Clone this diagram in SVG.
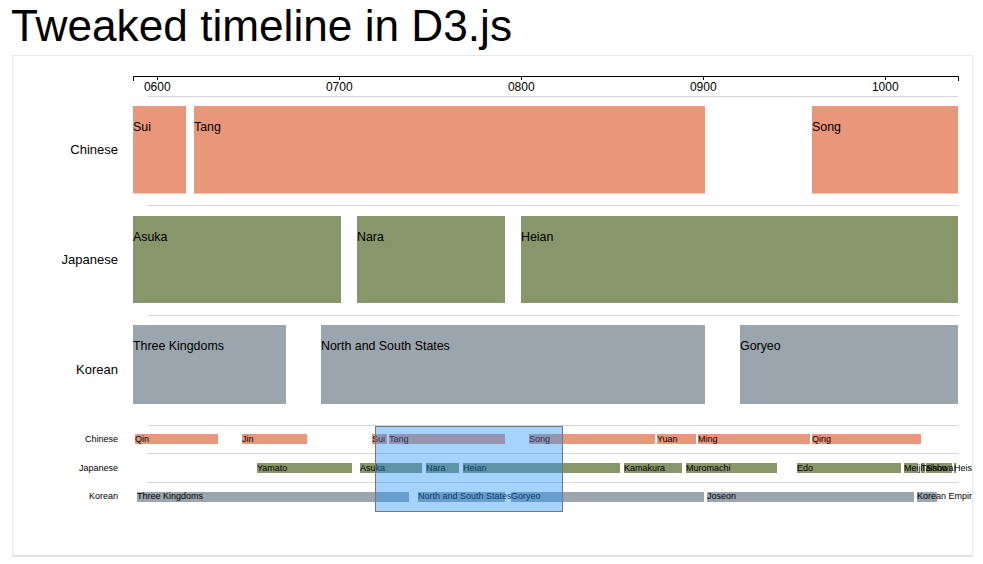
<svg xmlns="http://www.w3.org/2000/svg" width="983" height="564" viewBox="0 0 983 564">
<style>
text{font-family:"Liberation Sans",Arial,sans-serif;fill:#000}
.title{font-size:44.2px}
.tick{font-size:12px;text-anchor:middle}
.row{font-size:13px;text-anchor:end}
.mrow{font-size:9px;text-anchor:end}
.lbl{font-size:12.4px}
.mlbl{font-size:9px}
.sep{stroke:#d6d6d6;stroke-width:1}
.cn{fill:#e9967a}
.jp{fill:#88966c}
.kr{fill:#9ba5ae}
.brush{fill:#1e90ff;fill-opacity:.4;stroke:#777;stroke-width:1}
</style>
<defs>
<clipPath id="clip"><rect x="12" y="56" width="960" height="500"/></clipPath>
</defs>
<rect width="983" height="564" fill="#fff"/>
<text class="title" x="11" y="41">Tweaked timeline in D3.js</text>
<g id="container">
<rect x="12.5" y="55.5" width="960" height="500" fill="#fff" stroke="#e8e8e8"/>
<line x1="12.5" y1="556" x2="972.5" y2="556" stroke="#cfcfcf"/>
</g>
<g id="axis">
<path d="M133.5,81V76.5H958.5V81" fill="none" stroke="#000"/>
<g stroke="#000">
<line x1="157.5" y1="76.5" x2="157.5" y2="80"/>
<line x1="339.5" y1="76.5" x2="339.5" y2="80"/>
<line x1="521.5" y1="76.5" x2="521.5" y2="80"/>
<line x1="703.5" y1="76.5" x2="703.5" y2="80"/>
<line x1="885.5" y1="76.5" x2="885.5" y2="80"/>
</g>
<text class="tick" x="157.3" y="90.7">0600</text>
<text class="tick" x="339.3" y="90.7">0700</text>
<text class="tick" x="521.3" y="90.7">0800</text>
<text class="tick" x="703.3" y="90.7">0900</text>
<text class="tick" x="885.3" y="90.7">1000</text>
</g>
<g id="separators">
<line class="sep" x1="148" y1="96.5" x2="958" y2="96.5"/>
<line class="sep" x1="148" y1="205.5" x2="958" y2="205.5"/>
<line class="sep" x1="148" y1="315.5" x2="958" y2="315.5"/>
<line class="sep" x1="148" y1="425.5" x2="958" y2="425.5"/>
<line class="sep" x1="148" y1="453.5" x2="958" y2="453.5"/>
<line class="sep" x1="148" y1="482.5" x2="958" y2="482.5"/>
</g>
<g id="main-chinese">
<text class="row" x="118" y="154">Chinese</text>
<rect class="cn" x="133" y="106" width="53" height="87.5"/>
<rect class="cn" x="194" y="106" width="511" height="87.5"/>
<rect class="cn" x="812" y="106" width="146" height="87.5"/>
<text class="lbl" x="133" y="131">Sui</text>
<text class="lbl" x="194" y="131">Tang</text>
<text class="lbl" x="812" y="131">Song</text>
</g>
<g id="main-japanese">
<text class="row" x="118" y="264">Japanese</text>
<rect class="jp" x="133" y="216" width="208" height="87"/>
<rect class="jp" x="357" y="216" width="148" height="87"/>
<rect class="jp" x="521" y="216" width="437" height="87"/>
<text class="lbl" x="133" y="241">Asuka</text>
<text class="lbl" x="357" y="241">Nara</text>
<text class="lbl" x="521" y="241">Heian</text>
</g>
<g id="main-korean">
<text class="row" x="118" y="374">Korean</text>
<rect class="kr" x="133" y="325" width="153" height="79"/>
<rect class="kr" x="321" y="325" width="384" height="79"/>
<rect class="kr" x="740" y="325" width="218" height="79"/>
<text class="lbl" x="133" y="350">Three Kingdoms</text>
<text class="lbl" x="321" y="350">North and South States</text>
<text class="lbl" x="740" y="350">Goryeo</text>
</g>
<g id="mini" clip-path="url(#clip)">
<g id="mini-chinese">
<text class="mrow" x="118" y="441.5">Chinese</text>
<rect class="cn" x="135" y="434" width="83" height="10"/>
<rect class="cn" x="242" y="434" width="65" height="10"/>
<rect class="cn" x="372" y="434" width="15" height="10"/>
<rect class="cn" x="389" y="434" width="116" height="10"/>
<rect class="cn" x="529" y="434" width="126" height="10"/>
<rect class="cn" x="657" y="434" width="39" height="10"/>
<rect class="cn" x="698" y="434" width="112" height="10"/>
<rect class="cn" x="812" y="434" width="109" height="10"/>
<text class="mlbl" x="135" y="441.5">Qin</text>
<text class="mlbl" x="242" y="441.5">Jin</text>
<text class="mlbl" x="372" y="441.5">Sui</text>
<text class="mlbl" x="389" y="441.5">Tang</text>
<text class="mlbl" x="529" y="441.5">Song</text>
<text class="mlbl" x="657" y="441.5">Yuan</text>
<text class="mlbl" x="698" y="441.5">Ming</text>
<text class="mlbl" x="812" y="441.5">Qing</text>
</g>
<g id="mini-japanese">
<text class="mrow" x="118" y="470.5">Japanese</text>
<rect class="jp" x="257" y="463" width="95" height="10"/>
<rect class="jp" x="360" y="463" width="62" height="10"/>
<rect class="jp" x="426" y="463" width="33" height="10"/>
<rect class="jp" x="463" y="463" width="157" height="10"/>
<rect class="jp" x="624" y="463" width="58" height="10"/>
<rect class="jp" x="686" y="463" width="91" height="10"/>
<rect class="jp" x="797" y="463" width="104" height="10"/>
<rect class="jp" x="904" y="463" width="14" height="10"/>
<rect class="jp" x="921" y="463" width="4" height="10"/>
<rect class="jp" x="926" y="463" width="26" height="10"/>
<rect class="jp" x="954" y="463" width="2" height="10"/>
<text class="mlbl" x="257" y="470.5">Yamato</text>
<text class="mlbl" x="360" y="470.5">Asuka</text>
<text class="mlbl" x="426" y="470.5">Nara</text>
<text class="mlbl" x="463" y="470.5">Heian</text>
<text class="mlbl" x="624" y="470.5">Kamakura</text>
<text class="mlbl" x="686" y="470.5">Muromachi</text>
<text class="mlbl" x="797" y="470.5">Edo</text>
<text class="mlbl" x="904" y="470.5">Meiji</text>
<text class="mlbl" x="921" y="470.5">Taisho</text>
<text class="mlbl" x="926" y="470.5">Showa</text>
<text class="mlbl" x="954" y="470.5">Heisei</text>
</g>
<g id="mini-korean">
<text class="mrow" x="118" y="499">Korean</text>
<rect class="kr" x="137" y="492" width="272" height="10"/>
<rect class="kr" x="418" y="492" width="87" height="10"/>
<rect class="kr" x="511" y="492" width="193" height="10"/>
<rect class="kr" x="707" y="492" width="207" height="10"/>
<rect class="kr" x="917" y="492" width="20" height="10"/>
<text class="mlbl" x="137" y="499">Three Kingdoms</text>
<text class="mlbl" x="418" y="499">North and South States</text>
<text class="mlbl" x="511" y="499">Goryeo</text>
<text class="mlbl" x="707" y="499">Joseon</text>
<text class="mlbl" x="917" y="499">Korean Empire</text>
</g>
<rect id="brush" class="brush" x="375.5" y="426.5" width="187" height="85"/>
</g>
</svg>
